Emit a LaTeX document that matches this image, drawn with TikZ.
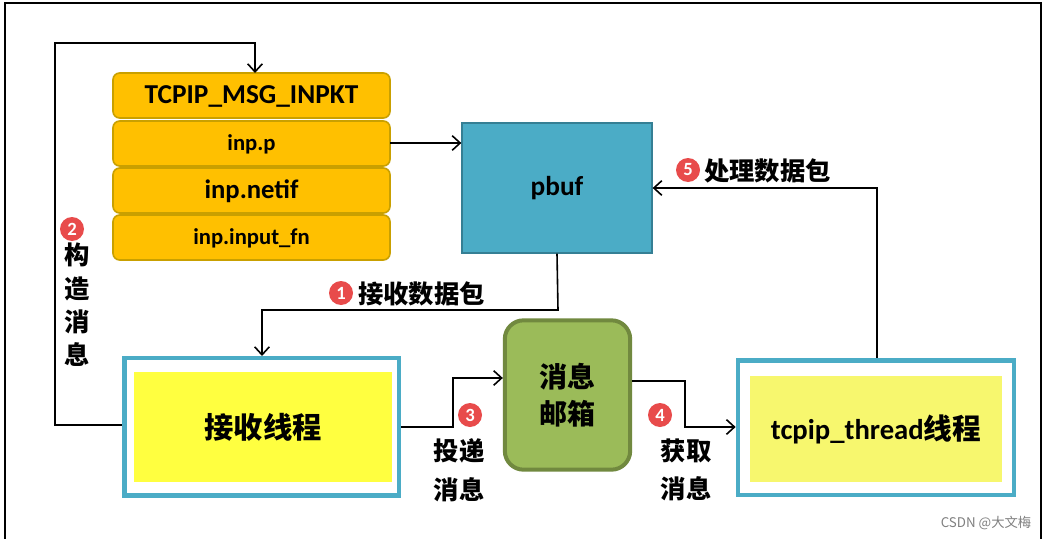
\documentclass[tikz,border=0pt]{standalone}
\usepackage{fontspec}
\setmainfont{Carlito}
\newfontfamily\cjk{Noto Sans CJK SC}
\usetikzlibrary{arrows.meta}
\definecolor{org}{HTML}{FFC000}
\definecolor{orgb}{HTML}{C9A000}
\definecolor{pb}{HTML}{4BACC6}
\definecolor{pbb}{HTML}{357F94}
\definecolor{yel}{HTML}{FFFF40}
\definecolor{yel2}{HTML}{F7F76E}
\definecolor{grn}{HTML}{9BBB59}
\definecolor{grnb}{HTML}{71893F}
\definecolor{bad}{HTML}{E84B4B}
\begin{document}
\begin{tikzpicture}[x=0.75pt,y=-0.75pt,
  fld/.style={draw=orgb,line width=1.2pt,fill=org,rounded corners=5pt},
  arr/.style={-{Straight Barb[length=6pt,width=11pt]},line width=1.2pt},
  badge/.style={circle,fill=bad,text=white,font=\bfseries\fontsize{14}{16}\selectfont,inner sep=0pt,minimum size=18pt},
  lab/.style={font=\cjk\bfseries\fontsize{19}{22}\selectfont,inner sep=0pt,align=center}]
\useasboundingbox (0,0) rectangle (1047,539);
\fill[white] (0,0) rectangle (1047,539);
\draw[line width=1.2pt] (5,3) rectangle (1041,545);
% stack
\draw[fld] (113,73) rectangle (390,118);
\draw[fld] (113,121) rectangle (390,166);
\draw[fld] (113,168) rectangle (390,213);
\draw[fld] (113,215) rectangle (390,260);
\node[font=\bfseries\fontsize{20.5}{24}\selectfont] (msg) at (251.5,96) {TCPIP\_MSG\_INPKT};
\coordinate (stacktop) at (255,73);
\node[font=\bfseries\fontsize{17}{20}\selectfont] (inpp) at (251.5,144) {inp.p};
\coordinate (inppr) at (390,143);
\node[font=\bfseries\fontsize{20}{24}\selectfont] (netif) at (251.5,191) {inp.netif};
\node[font=\bfseries\fontsize{17}{20}\selectfont] (fn) at (251.5,238) {inp.input\_fn};
% pbuf
\node[draw=pbb,line width=1pt,fill=pb,minimum width=142.5pt,minimum height=97.5pt,font=\bfseries\fontsize{20.5}{24}\selectfont] (pbuf) at (557,188) {pbuf};
% recv
\node[draw=pb,line width=3.5pt,fill=white,minimum width=206pt,minimum height=103pt] (recv) at (261.5,426.5) {};
\node[fill=yel,minimum width=193pt,minimum height=82pt,font=\cjk\bfseries\fontsize{22}{26}\selectfont] (recvi) at (263,427) {接收线程};
% mailbox
\node[draw=grnb,line width=3pt,fill=grn,rounded corners=14pt,minimum width=94pt,minimum height=112pt,font=\cjk\bfseries\fontsize{21}{28}\selectfont,align=center] (mb) at (567.5,395) {消息\\邮箱};
% tcpip
\node[draw=pb,line width=3.5pt,fill=white,minimum width=207pt,minimum height=101pt] (tcp) at (876,427.5) {};
\node[fill=yel2,minimum width=189pt,minimum height=80pt,font=\bfseries\fontsize{21.5}{26}\selectfont] (tcpi) at (876,429) {tcpip\_thread{\cjk 线程}};
% connectors
\draw[arr] (recv.west |- 0,425) -- (55,425) -- (55,43) -- (255,43) -- (stacktop);
\draw[arr] (inppr) -- (pbuf.west |- inppr);
\draw[arr] (pbuf.south) -- (558,310) -- (262,310) -- (262,356);
\draw[arr] (recv.east |- 0,427) -- (453,427) -- (453,378) -- (mb.west |- 0,378);
\draw[arr] (mb.east |- 0,381) -- (685,381) -- (685,427) -- (tcp.west |- 0,427);
\draw[arr] (tcp.north -| 877,0) -- (877,188) -- (pbuf.east |- 0,188);
% labels
\node[badge] (b1) at (341,293) {1};
\node[lab,anchor=west] (l1) at (358,294) {接收数据包};
\node[badge] (b2) at (72,229) {2};
\node[lab] (l2) at (77,305) {构\\[3pt]造\\[3pt]消\\[3pt]息};
\node[badge] (b3) at (470,415) {3};
\node[lab] (l3) at (459,470) {投递\\[7pt]消息};
\node[badge] (b4) at (660,415) {4};
\node[lab] (l4) at (686,470) {获取\\[7pt]消息};
\node[badge] (b5) at (688,170) {5};
\node[lab,anchor=west] (l5) at (704,171) {处理数据包};
\node[font=\cjk\fontsize{10}{12}\selectfont,text=gray] (wm) at (986,523) {CSDN @大文梅};
\end{tikzpicture}
\end{document}
